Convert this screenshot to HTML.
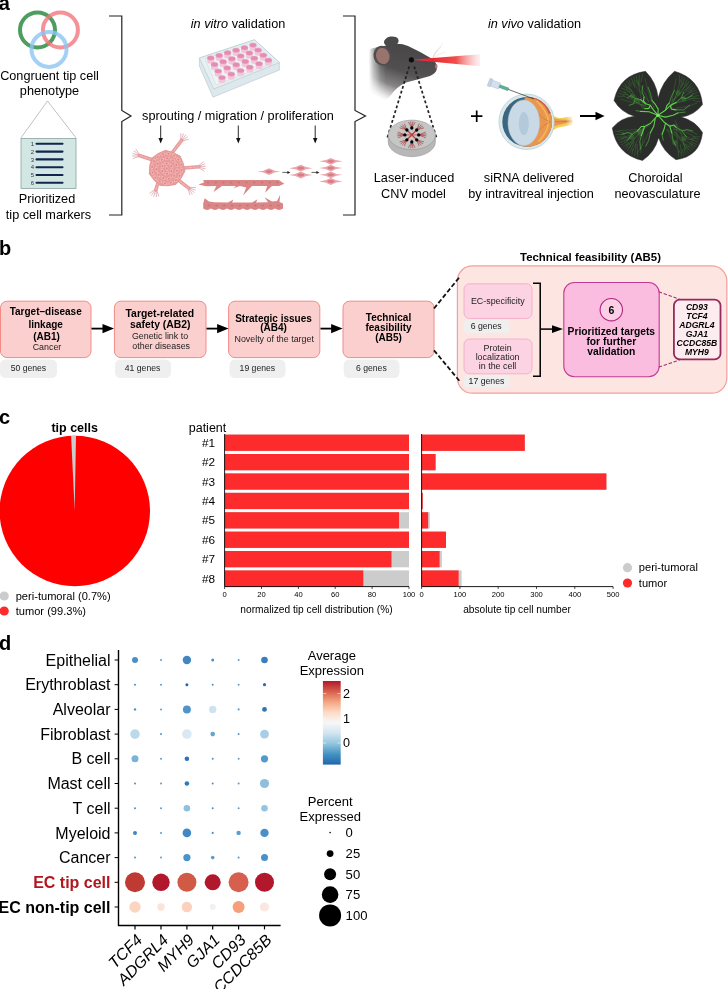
<!DOCTYPE html>
<html lang="en"><head><meta charset="utf-8"><title>Figure</title>
<style>
html,body{margin:0;padding:0;background:#fff;}
body{width:728px;height:989px;overflow:hidden;}
svg{display:block;font-family:"Liberation Sans",sans-serif;fill:#000;}
</style></head><body>
<svg width="728" height="989" viewBox="0 0 728 989">
<rect width="728" height="989" fill="#fff"/>
<g id="pa">
<text x="-1.2" y="10.3" font-size="20" font-weight="bold">a</text>
<circle cx="37.5" cy="30" r="17.5" fill="none" stroke="#4d9e5e" stroke-width="4"/>
<circle cx="60.4" cy="30" r="17.5" fill="none" stroke="#f2777e" stroke-width="4" opacity="0.8"/>
<circle cx="49" cy="49.4" r="17.5" fill="none" stroke="#8cc4f2" stroke-width="4" opacity="0.8"/>
<text x="49.5" y="79.5" font-size="12.7" text-anchor="middle">Congruent tip cell</text>
<text x="49.5" y="95" font-size="12.7" text-anchor="middle">phenotype</text>
<path d="M21 137.8 L47.5 101 L76 137.8" fill="none" stroke="#8f9a97" stroke-width="0.6"/>
<rect x="21" y="138.5" width="55" height="50" fill="#d2e7e3" stroke="#8aa39f" stroke-width="0.8"/>
<line x1="36.5" y1="143.75" x2="62.5" y2="143.75" stroke="#10264f" stroke-width="2.1" stroke-linecap="round"/>
<text x="34.2" y="145.85" font-size="6" text-anchor="end" fill="#334">1</text>
<line x1="36.5" y1="151.6" x2="62.5" y2="151.6" stroke="#10264f" stroke-width="2.1" stroke-linecap="round"/>
<text x="34.2" y="153.7" font-size="6" text-anchor="end" fill="#334">2</text>
<line x1="36.5" y1="159.4" x2="62.5" y2="159.4" stroke="#10264f" stroke-width="2.1" stroke-linecap="round"/>
<text x="34.2" y="161.5" font-size="6" text-anchor="end" fill="#334">3</text>
<line x1="36.5" y1="167.2" x2="62.5" y2="167.2" stroke="#10264f" stroke-width="2.1" stroke-linecap="round"/>
<text x="34.2" y="169.29999999999998" font-size="6" text-anchor="end" fill="#334">4</text>
<line x1="36.5" y1="175" x2="62.5" y2="175" stroke="#10264f" stroke-width="2.1" stroke-linecap="round"/>
<text x="34.2" y="177.1" font-size="6" text-anchor="end" fill="#334">5</text>
<line x1="36.5" y1="182.8" x2="62.5" y2="182.8" stroke="#10264f" stroke-width="2.1" stroke-linecap="round"/>
<text x="34.2" y="184.9" font-size="6" text-anchor="end" fill="#334">6</text>
<text x="47" y="202.5" font-size="12.7" text-anchor="middle">Prioritized</text>
<text x="48.5" y="218.7" font-size="12.7" text-anchor="middle">tip cell markers</text>
<path d="M109 16 H121.8 V110.5 L131 116 L121.8 121.5 V215 H109" fill="none" stroke="#222" stroke-width="1.2"/>
<path d="M343 16 H355 V110.5 L365.5 116 L355 121.5 V215 H343" fill="none" stroke="#222" stroke-width="1.2"/>
<text x="238" y="27.5" font-size="12.7" text-anchor="middle"><tspan font-style="italic">in vitro</tspan> validation</text>
<text x="534.5" y="27.5" font-size="12.7" text-anchor="middle"><tspan font-style="italic">in vivo</tspan> validation</text>
<text x="238" y="119.5" font-size="12.7" text-anchor="middle">sprouting / migration / proliferation</text>
<path d="M160.7 125.5 V140" stroke="#111" stroke-width="0.9" fill="none"/><path d="M158.5 138 L160.7 143.6 L162.89999999999998 138 Z" fill="#111"/>
<path d="M238.3 125.5 V140" stroke="#111" stroke-width="0.9" fill="none"/><path d="M236.10000000000002 138 L238.3 143.6 L240.5 138 Z" fill="#111"/>
<path d="M315.2 125.5 V140" stroke="#111" stroke-width="0.9" fill="none"/><path d="M313.0 138 L315.2 143.6 L317.4 138 Z" fill="#111"/>
<g id="plate">
<path d="M199.4 58 L254.5 39.8 L279.4 62.5 L279.4 70 L213 97.2 L199.4 66 Z" fill="#dde8ec" stroke="#b5c6cd" stroke-width="0.6"/>
<path d="M199.4 58 L254.5 39.8 L279.4 62.5 L213.7 89 Z" fill="#e6eff2" stroke="#b5c6cd" stroke-width="0.6"/>
<path d="M205 58.5 L253 42.5 L274.5 62 L216 85 Z" fill="#eef3f5" stroke="#c6d3d8" stroke-width="0.4"/>
<path d="M207.2 58.0 v3.4 a3.5 2.2 0 0 0 7 0 v-3.4 Z" fill="#f4c6da"/><ellipse cx="210.7" cy="58.0" rx="3.5" ry="2.2" fill="#e88bb4" stroke="#d9a9c0" stroke-width="0.4"/>
<path d="M215.7 55.4 v3.4 a3.5 2.2 0 0 0 7 0 v-3.4 Z" fill="#f4c6da"/><ellipse cx="219.2" cy="55.4" rx="3.5" ry="2.2" fill="#e88bb4" stroke="#d9a9c0" stroke-width="0.4"/>
<path d="M224.1 52.8 v3.4 a3.5 2.2 0 0 0 7 0 v-3.4 Z" fill="#f4c6da"/><ellipse cx="227.6" cy="52.8" rx="3.5" ry="2.2" fill="#e88bb4" stroke="#d9a9c0" stroke-width="0.4"/>
<path d="M232.6 50.3 v3.4 a3.5 2.2 0 0 0 7 0 v-3.4 Z" fill="#f4c6da"/><ellipse cx="236.1" cy="50.3" rx="3.5" ry="2.2" fill="#e88bb4" stroke="#d9a9c0" stroke-width="0.4"/>
<path d="M241.0 47.7 v3.4 a3.5 2.2 0 0 0 7 0 v-3.4 Z" fill="#f4c6da"/><ellipse cx="244.5" cy="47.7" rx="3.5" ry="2.2" fill="#e88bb4" stroke="#d9a9c0" stroke-width="0.4"/>
<path d="M249.5 45.1 v3.4 a3.5 2.2 0 0 0 7 0 v-3.4 Z" fill="#f4c6da"/><ellipse cx="253.0" cy="45.1" rx="3.5" ry="2.2" fill="#e88bb4" stroke="#d9a9c0" stroke-width="0.4"/>
<path d="M211.0 64.5 v3.4 a3.5 2.2 0 0 0 7 0 v-3.4 Z" fill="#f4c6da"/><ellipse cx="214.5" cy="64.5" rx="3.5" ry="2.2" fill="#e88bb4" stroke="#d9a9c0" stroke-width="0.4"/>
<path d="M219.7 61.7 v3.4 a3.5 2.2 0 0 0 7 0 v-3.4 Z" fill="#f4c6da"/><ellipse cx="223.2" cy="61.7" rx="3.5" ry="2.2" fill="#e88bb4" stroke="#d9a9c0" stroke-width="0.4"/>
<path d="M228.4 58.8 v3.4 a3.5 2.2 0 0 0 7 0 v-3.4 Z" fill="#f4c6da"/><ellipse cx="231.9" cy="58.8" rx="3.5" ry="2.2" fill="#e88bb4" stroke="#d9a9c0" stroke-width="0.4"/>
<path d="M237.2 55.9 v3.4 a3.5 2.2 0 0 0 7 0 v-3.4 Z" fill="#f4c6da"/><ellipse cx="240.7" cy="55.9" rx="3.5" ry="2.2" fill="#e88bb4" stroke="#d9a9c0" stroke-width="0.4"/>
<path d="M245.9 53.0 v3.4 a3.5 2.2 0 0 0 7 0 v-3.4 Z" fill="#f4c6da"/><ellipse cx="249.4" cy="53.0" rx="3.5" ry="2.2" fill="#e88bb4" stroke="#d9a9c0" stroke-width="0.4"/>
<path d="M254.6 50.1 v3.4 a3.5 2.2 0 0 0 7 0 v-3.4 Z" fill="#f4c6da"/><ellipse cx="258.1" cy="50.1" rx="3.5" ry="2.2" fill="#e88bb4" stroke="#d9a9c0" stroke-width="0.4"/>
<path d="M214.7 71.1 v3.4 a3.5 2.2 0 0 0 7 0 v-3.4 Z" fill="#f4c6da"/><ellipse cx="218.2" cy="71.1" rx="3.5" ry="2.2" fill="#e88bb4" stroke="#d9a9c0" stroke-width="0.4"/>
<path d="M223.7 67.9 v3.4 a3.5 2.2 0 0 0 7 0 v-3.4 Z" fill="#f4c6da"/><ellipse cx="227.2" cy="67.9" rx="3.5" ry="2.2" fill="#e88bb4" stroke="#d9a9c0" stroke-width="0.4"/>
<path d="M232.7 64.7 v3.4 a3.5 2.2 0 0 0 7 0 v-3.4 Z" fill="#f4c6da"/><ellipse cx="236.2" cy="64.7" rx="3.5" ry="2.2" fill="#e88bb4" stroke="#d9a9c0" stroke-width="0.4"/>
<path d="M241.8 61.5 v3.4 a3.5 2.2 0 0 0 7 0 v-3.4 Z" fill="#f4c6da"/><ellipse cx="245.3" cy="61.5" rx="3.5" ry="2.2" fill="#e88bb4" stroke="#d9a9c0" stroke-width="0.4"/>
<path d="M250.8 58.3 v3.4 a3.5 2.2 0 0 0 7 0 v-3.4 Z" fill="#f4c6da"/><ellipse cx="254.3" cy="58.3" rx="3.5" ry="2.2" fill="#e88bb4" stroke="#d9a9c0" stroke-width="0.4"/>
<path d="M259.8 55.2 v3.4 a3.5 2.2 0 0 0 7 0 v-3.4 Z" fill="#f4c6da"/><ellipse cx="263.3" cy="55.2" rx="3.5" ry="2.2" fill="#e88bb4" stroke="#d9a9c0" stroke-width="0.4"/>
<path d="M218.5 77.6 v3.4 a3.5 2.2 0 0 0 7 0 v-3.4 Z" fill="#f4c6da"/><ellipse cx="222.0" cy="77.6" rx="3.5" ry="2.2" fill="#e88bb4" stroke="#d9a9c0" stroke-width="0.4"/>
<path d="M227.8 74.1 v3.4 a3.5 2.2 0 0 0 7 0 v-3.4 Z" fill="#f4c6da"/><ellipse cx="231.3" cy="74.1" rx="3.5" ry="2.2" fill="#e88bb4" stroke="#d9a9c0" stroke-width="0.4"/>
<path d="M237.1 70.6 v3.4 a3.5 2.2 0 0 0 7 0 v-3.4 Z" fill="#f4c6da"/><ellipse cx="240.6" cy="70.6" rx="3.5" ry="2.2" fill="#e88bb4" stroke="#d9a9c0" stroke-width="0.4"/>
<path d="M246.3 67.2 v3.4 a3.5 2.2 0 0 0 7 0 v-3.4 Z" fill="#f4c6da"/><ellipse cx="249.8" cy="67.2" rx="3.5" ry="2.2" fill="#e88bb4" stroke="#d9a9c0" stroke-width="0.4"/>
<path d="M255.6 63.7 v3.4 a3.5 2.2 0 0 0 7 0 v-3.4 Z" fill="#f4c6da"/><ellipse cx="259.1" cy="63.7" rx="3.5" ry="2.2" fill="#e88bb4" stroke="#d9a9c0" stroke-width="0.4"/>
<path d="M264.9 60.2 v3.4 a3.5 2.2 0 0 0 7 0 v-3.4 Z" fill="#f4c6da"/><ellipse cx="268.4" cy="60.2" rx="3.5" ry="2.2" fill="#e88bb4" stroke="#d9a9c0" stroke-width="0.4"/>
</g>
<g id="spheroid">
<line x1="180.7" y1="141.6" x2="180.9" y2="133.6" stroke="#e5b6bf" stroke-width="1" stroke-linecap="round"/>
<line x1="180.7" y1="141.6" x2="183.4" y2="133.9" stroke="#e5b6bf" stroke-width="1" stroke-linecap="round"/>
<line x1="180.7" y1="141.6" x2="185.7" y2="135.0" stroke="#e5b6bf" stroke-width="1" stroke-linecap="round"/>
<line x1="180.7" y1="141.6" x2="187.4" y2="136.9" stroke="#e5b6bf" stroke-width="1" stroke-linecap="round"/>
<line x1="180.7" y1="141.6" x2="188.3" y2="139.3" stroke="#e5b6bf" stroke-width="1" stroke-linecap="round"/>
<line x1="171.2" y1="154" x2="181.6" y2="140.4" stroke="#e79c9c" stroke-width="3.6" stroke-linecap="round"/>
<line x1="171.2" y1="154" x2="181.6" y2="140.4" stroke="#efb4b2" stroke-width="1.2" stroke-linecap="round" stroke-dasharray="3 1.6"/>
<line x1="140.7" y1="156.0" x2="133.1" y2="158.4" stroke="#e5b6bf" stroke-width="1" stroke-linecap="round"/>
<line x1="140.7" y1="156.0" x2="132.5" y2="155.9" stroke="#e5b6bf" stroke-width="1" stroke-linecap="round"/>
<line x1="140.7" y1="156.0" x2="132.8" y2="153.4" stroke="#e5b6bf" stroke-width="1" stroke-linecap="round"/>
<line x1="140.7" y1="156.0" x2="134.1" y2="151.1" stroke="#e5b6bf" stroke-width="1" stroke-linecap="round"/>
<line x1="140.7" y1="156.0" x2="136.0" y2="149.5" stroke="#e5b6bf" stroke-width="1" stroke-linecap="round"/>
<line x1="151.5" y1="159.5" x2="139.3" y2="155.5" stroke="#e79c9c" stroke-width="3.6" stroke-linecap="round"/>
<line x1="151.5" y1="159.5" x2="139.3" y2="155.5" stroke="#efb4b2" stroke-width="1.2" stroke-linecap="round" stroke-dasharray="3 1.6"/>
<line x1="197.2" y1="166.9" x2="203.3" y2="161.8" stroke="#e5b6bf" stroke-width="1" stroke-linecap="round"/>
<line x1="197.2" y1="166.9" x2="204.8" y2="163.8" stroke="#e5b6bf" stroke-width="1" stroke-linecap="round"/>
<line x1="197.2" y1="166.9" x2="205.5" y2="166.2" stroke="#e5b6bf" stroke-width="1" stroke-linecap="round"/>
<line x1="197.2" y1="166.9" x2="205.2" y2="168.8" stroke="#e5b6bf" stroke-width="1" stroke-linecap="round"/>
<line x1="197.2" y1="166.9" x2="204.0" y2="171.0" stroke="#e5b6bf" stroke-width="1" stroke-linecap="round"/>
<line x1="184" y1="168" x2="198.7" y2="166.8" stroke="#e79c9c" stroke-width="3.6" stroke-linecap="round"/>
<line x1="184" y1="168" x2="198.7" y2="166.8" stroke="#efb4b2" stroke-width="1.2" stroke-linecap="round" stroke-dasharray="3 1.6"/>
<line x1="187.6" y1="187.3" x2="195.6" y2="187.6" stroke="#e5b6bf" stroke-width="1" stroke-linecap="round"/>
<line x1="187.6" y1="187.3" x2="195.3" y2="190.1" stroke="#e5b6bf" stroke-width="1" stroke-linecap="round"/>
<line x1="187.6" y1="187.3" x2="194.2" y2="192.4" stroke="#e5b6bf" stroke-width="1" stroke-linecap="round"/>
<line x1="187.6" y1="187.3" x2="192.2" y2="194.1" stroke="#e5b6bf" stroke-width="1" stroke-linecap="round"/>
<line x1="187.6" y1="187.3" x2="189.9" y2="194.9" stroke="#e5b6bf" stroke-width="1" stroke-linecap="round"/>
<line x1="179" y1="180.6" x2="188.8" y2="188.2" stroke="#e79c9c" stroke-width="3.6" stroke-linecap="round"/>
<line x1="179" y1="180.6" x2="188.8" y2="188.2" stroke="#efb4b2" stroke-width="1.2" stroke-linecap="round" stroke-dasharray="3 1.6"/>
<line x1="156.3" y1="188.5" x2="158.7" y2="196.1" stroke="#e5b6bf" stroke-width="1" stroke-linecap="round"/>
<line x1="156.3" y1="188.5" x2="156.3" y2="196.7" stroke="#e5b6bf" stroke-width="1" stroke-linecap="round"/>
<line x1="156.3" y1="188.5" x2="153.7" y2="196.4" stroke="#e5b6bf" stroke-width="1" stroke-linecap="round"/>
<line x1="156.3" y1="188.5" x2="151.5" y2="195.1" stroke="#e5b6bf" stroke-width="1" stroke-linecap="round"/>
<line x1="156.3" y1="188.5" x2="149.9" y2="193.2" stroke="#e5b6bf" stroke-width="1" stroke-linecap="round"/>
<line x1="158.2" y1="182.5" x2="155.8" y2="189.9" stroke="#e79c9c" stroke-width="3.6" stroke-linecap="round"/>
<line x1="158.2" y1="182.5" x2="155.8" y2="189.9" stroke="#efb4b2" stroke-width="1.2" stroke-linecap="round" stroke-dasharray="3 1.6"/>
<polygon points="184.9,171.2 181.1,178.3 175.9,184.4 168.1,185.8 160.1,185.5 154.1,180.3 149.3,173.9 149.7,165.9 151.7,158.2 158.2,153.5 165.4,150.3 173.1,152.4 180.2,156.1 183.3,163.4" fill="#e99c9c" stroke="#e39090" stroke-width="0.8" stroke-linejoin="round"/>
<ellipse cx="166.8" cy="168.5" rx="3.1" ry="1.9" transform="rotate(81 166.8 168.5)" fill="#f1b5b3" stroke="#e08888" stroke-width="0.35"/><ellipse cx="166.8" cy="168.5" rx="1.25" ry="0.85" transform="rotate(81 166.8 168.5)" fill="#e58585"/>
<ellipse cx="166.9" cy="173.7" rx="3.1" ry="1.9" transform="rotate(162 166.9 173.7)" fill="#f1b5b3" stroke="#e08888" stroke-width="0.35"/><ellipse cx="166.9" cy="173.7" rx="1.25" ry="0.85" transform="rotate(162 166.9 173.7)" fill="#e58585"/>
<ellipse cx="162.3" cy="171.1" rx="3.1" ry="1.9" transform="rotate(247 162.3 171.1)" fill="#f1b5b3" stroke="#e08888" stroke-width="0.35"/><ellipse cx="162.3" cy="171.1" rx="1.25" ry="0.85" transform="rotate(247 162.3 171.1)" fill="#e58585"/>
<ellipse cx="162.3" cy="165.9" rx="3.1" ry="1.9" transform="rotate(278 162.3 165.9)" fill="#f1b5b3" stroke="#e08888" stroke-width="0.35"/><ellipse cx="162.3" cy="165.9" rx="1.25" ry="0.85" transform="rotate(278 162.3 165.9)" fill="#e58585"/>
<ellipse cx="166.7" cy="163.3" rx="3.1" ry="1.9" transform="rotate(361 166.7 163.3)" fill="#f1b5b3" stroke="#e08888" stroke-width="0.35"/><ellipse cx="166.7" cy="163.3" rx="1.25" ry="0.85" transform="rotate(361 166.7 163.3)" fill="#e58585"/>
<ellipse cx="171.3" cy="165.9" rx="3.1" ry="1.9" transform="rotate(413 171.3 165.9)" fill="#f1b5b3" stroke="#e08888" stroke-width="0.35"/><ellipse cx="171.3" cy="165.9" rx="1.25" ry="0.85" transform="rotate(413 171.3 165.9)" fill="#e58585"/>
<ellipse cx="171.3" cy="171.1" rx="3.1" ry="1.9" transform="rotate(457 171.3 171.1)" fill="#f1b5b3" stroke="#e08888" stroke-width="0.35"/><ellipse cx="171.3" cy="171.1" rx="1.25" ry="0.85" transform="rotate(457 171.3 171.1)" fill="#e58585"/>
<ellipse cx="156.6" cy="169.3" rx="3.1" ry="1.9" transform="rotate(266 156.6 169.3)" fill="#f1b5b3" stroke="#e08888" stroke-width="0.35"/><ellipse cx="156.6" cy="169.3" rx="1.25" ry="0.85" transform="rotate(266 156.6 169.3)" fill="#e58585"/>
<ellipse cx="157.8" cy="163.7" rx="3.1" ry="1.9" transform="rotate(275 157.8 163.7)" fill="#f1b5b3" stroke="#e08888" stroke-width="0.35"/><ellipse cx="157.8" cy="163.7" rx="1.25" ry="0.85" transform="rotate(275 157.8 163.7)" fill="#e58585"/>
<ellipse cx="161.8" cy="159.6" rx="3.1" ry="1.9" transform="rotate(327 161.8 159.6)" fill="#f1b5b3" stroke="#e08888" stroke-width="0.35"/><ellipse cx="161.8" cy="159.6" rx="1.25" ry="0.85" transform="rotate(327 161.8 159.6)" fill="#e58585"/>
<ellipse cx="167.4" cy="158.3" rx="3.1" ry="1.9" transform="rotate(342 167.4 158.3)" fill="#f1b5b3" stroke="#e08888" stroke-width="0.35"/><ellipse cx="167.4" cy="158.3" rx="1.25" ry="0.85" transform="rotate(342 167.4 158.3)" fill="#e58585"/>
<ellipse cx="172.8" cy="160.3" rx="3.1" ry="1.9" transform="rotate(376 172.8 160.3)" fill="#f1b5b3" stroke="#e08888" stroke-width="0.35"/><ellipse cx="172.8" cy="160.3" rx="1.25" ry="0.85" transform="rotate(376 172.8 160.3)" fill="#e58585"/>
<ellipse cx="176.3" cy="164.8" rx="3.1" ry="1.9" transform="rotate(425 176.3 164.8)" fill="#f1b5b3" stroke="#e08888" stroke-width="0.35"/><ellipse cx="176.3" cy="164.8" rx="1.25" ry="0.85" transform="rotate(425 176.3 164.8)" fill="#e58585"/>
<ellipse cx="176.8" cy="170.6" rx="3.1" ry="1.9" transform="rotate(478 176.8 170.6)" fill="#f1b5b3" stroke="#e08888" stroke-width="0.35"/><ellipse cx="176.8" cy="170.6" rx="1.25" ry="0.85" transform="rotate(478 176.8 170.6)" fill="#e58585"/>
<ellipse cx="174.1" cy="175.6" rx="3.1" ry="1.9" transform="rotate(476 174.1 175.6)" fill="#f1b5b3" stroke="#e08888" stroke-width="0.35"/><ellipse cx="174.1" cy="175.6" rx="1.25" ry="0.85" transform="rotate(476 174.1 175.6)" fill="#e58585"/>
<ellipse cx="169.1" cy="178.4" rx="3.1" ry="1.9" transform="rotate(513 169.1 178.4)" fill="#f1b5b3" stroke="#e08888" stroke-width="0.35"/><ellipse cx="169.1" cy="178.4" rx="1.25" ry="0.85" transform="rotate(513 169.1 178.4)" fill="#e58585"/>
<ellipse cx="163.3" cy="178.1" rx="3.1" ry="1.9" transform="rotate(566 163.3 178.1)" fill="#f1b5b3" stroke="#e08888" stroke-width="0.35"/><ellipse cx="163.3" cy="178.1" rx="1.25" ry="0.85" transform="rotate(566 163.3 178.1)" fill="#e58585"/>
<ellipse cx="158.7" cy="174.7" rx="3.1" ry="1.9" transform="rotate(615 158.7 174.7)" fill="#f1b5b3" stroke="#e08888" stroke-width="0.35"/><ellipse cx="158.7" cy="174.7" rx="1.25" ry="0.85" transform="rotate(615 158.7 174.7)" fill="#e58585"/>
<ellipse cx="162.8" cy="154.2" rx="3.1" ry="1.9" transform="rotate(348 162.8 154.2)" fill="#f1b5b3" stroke="#e08888" stroke-width="0.35"/><ellipse cx="162.8" cy="154.2" rx="1.25" ry="0.85" transform="rotate(348 162.8 154.2)" fill="#e58585"/>
<ellipse cx="168.6" cy="153.8" rx="3.1" ry="1.9" transform="rotate(362 168.6 153.8)" fill="#f1b5b3" stroke="#e08888" stroke-width="0.35"/><ellipse cx="168.6" cy="153.8" rx="1.25" ry="0.85" transform="rotate(362 168.6 153.8)" fill="#e58585"/>
<ellipse cx="174.1" cy="155.6" rx="3.1" ry="1.9" transform="rotate(413 174.1 155.6)" fill="#f1b5b3" stroke="#e08888" stroke-width="0.35"/><ellipse cx="174.1" cy="155.6" rx="1.25" ry="0.85" transform="rotate(413 174.1 155.6)" fill="#e58585"/>
<ellipse cx="178.4" cy="159.4" rx="3.1" ry="1.9" transform="rotate(389 178.4 159.4)" fill="#f1b5b3" stroke="#e08888" stroke-width="0.35"/><ellipse cx="178.4" cy="159.4" rx="1.25" ry="0.85" transform="rotate(389 178.4 159.4)" fill="#e58585"/>
<ellipse cx="181.1" cy="164.5" rx="3.1" ry="1.9" transform="rotate(452 181.1 164.5)" fill="#f1b5b3" stroke="#e08888" stroke-width="0.35"/><ellipse cx="181.1" cy="164.5" rx="1.25" ry="0.85" transform="rotate(452 181.1 164.5)" fill="#e58585"/>
<ellipse cx="181.5" cy="170.3" rx="3.1" ry="1.9" transform="rotate(446 181.5 170.3)" fill="#f1b5b3" stroke="#e08888" stroke-width="0.35"/><ellipse cx="181.5" cy="170.3" rx="1.25" ry="0.85" transform="rotate(446 181.5 170.3)" fill="#e58585"/>
<ellipse cx="179.7" cy="175.8" rx="3.1" ry="1.9" transform="rotate(462 179.7 175.8)" fill="#f1b5b3" stroke="#e08888" stroke-width="0.35"/><ellipse cx="179.7" cy="175.8" rx="1.25" ry="0.85" transform="rotate(462 179.7 175.8)" fill="#e58585"/>
<ellipse cx="175.9" cy="180.1" rx="3.1" ry="1.9" transform="rotate(483 175.9 180.1)" fill="#f1b5b3" stroke="#e08888" stroke-width="0.35"/><ellipse cx="175.9" cy="180.1" rx="1.25" ry="0.85" transform="rotate(483 175.9 180.1)" fill="#e58585"/>
<ellipse cx="170.8" cy="182.8" rx="3.1" ry="1.9" transform="rotate(515 170.8 182.8)" fill="#f1b5b3" stroke="#e08888" stroke-width="0.35"/><ellipse cx="170.8" cy="182.8" rx="1.25" ry="0.85" transform="rotate(515 170.8 182.8)" fill="#e58585"/>
<ellipse cx="165.0" cy="183.2" rx="3.1" ry="1.9" transform="rotate(563 165.0 183.2)" fill="#f1b5b3" stroke="#e08888" stroke-width="0.35"/><ellipse cx="165.0" cy="183.2" rx="1.25" ry="0.85" transform="rotate(563 165.0 183.2)" fill="#e58585"/>
<ellipse cx="159.5" cy="181.4" rx="3.1" ry="1.9" transform="rotate(553 159.5 181.4)" fill="#f1b5b3" stroke="#e08888" stroke-width="0.35"/><ellipse cx="159.5" cy="181.4" rx="1.25" ry="0.85" transform="rotate(553 159.5 181.4)" fill="#e58585"/>
<ellipse cx="155.2" cy="177.6" rx="3.1" ry="1.9" transform="rotate(596 155.2 177.6)" fill="#f1b5b3" stroke="#e08888" stroke-width="0.35"/><ellipse cx="155.2" cy="177.6" rx="1.25" ry="0.85" transform="rotate(596 155.2 177.6)" fill="#e58585"/>
<ellipse cx="152.5" cy="172.5" rx="3.1" ry="1.9" transform="rotate(621 152.5 172.5)" fill="#f1b5b3" stroke="#e08888" stroke-width="0.35"/><ellipse cx="152.5" cy="172.5" rx="1.25" ry="0.85" transform="rotate(621 152.5 172.5)" fill="#e58585"/>
<ellipse cx="152.1" cy="166.7" rx="3.1" ry="1.9" transform="rotate(631 152.1 166.7)" fill="#f1b5b3" stroke="#e08888" stroke-width="0.35"/><ellipse cx="152.1" cy="166.7" rx="1.25" ry="0.85" transform="rotate(631 152.1 166.7)" fill="#e58585"/>
<ellipse cx="153.9" cy="161.2" rx="3.1" ry="1.9" transform="rotate(662 153.9 161.2)" fill="#f1b5b3" stroke="#e08888" stroke-width="0.35"/><ellipse cx="153.9" cy="161.2" rx="1.25" ry="0.85" transform="rotate(662 153.9 161.2)" fill="#e58585"/>
<ellipse cx="157.7" cy="156.9" rx="3.1" ry="1.9" transform="rotate(660 157.7 156.9)" fill="#f1b5b3" stroke="#e08888" stroke-width="0.35"/><ellipse cx="157.7" cy="156.9" rx="1.25" ry="0.85" transform="rotate(660 157.7 156.9)" fill="#e58585"/>
</g>
<g id="migration" fill="#db8686">
<path d="M198.4 184.4 L204 182.4 L203.2 179.9 H278.8 L284.3 183.7 L279 185.9 L272 186 L265 192.7 L267.3 186 L252 186 L243 195.4 L246.3 187.6 L240 186 L233.5 188.2 L236 186 L222 186 L213.5 192 L216.3 186 L206 186.3 Z"/>
<path d="M203.2 208.5 V203.5 L204.6 198.2 L209 201.6 L214 202.3 L228 202.5 L233.5 199.6 L232 202.5 L252 202.5 L257.5 199.3 L256 202.5 L268 202.3 L264.5 197.3 L272 201.6 L277 201 L280.2 194.7 L279.5 202 L283 203.5 V208.5 Q279.0 211.4 275.0 208.5 Q271.0 211.4 267.0 208.5 Q263.0 211.4 259.0 208.5 Q255.0 211.4 251.0 208.5 Q247.0 211.4 243.0 208.5 Q239.0 211.4 235.0 208.5 Q231.0 211.4 227.0 208.5 Q223.0 211.4 219.0 208.5 Q215.0 211.4 211.0 208.5 Q207.1 211.4 203.2 208.5 Z"/>
<ellipse cx="208.0" cy="182.6" rx="1.5" ry="0.8" fill="#cb7277"/><ellipse cx="209.0" cy="205.6" rx="1.5" ry="0.8" fill="#cb7277"/>
<ellipse cx="215.7" cy="182.6" rx="1.5" ry="0.8" fill="#cb7277"/><ellipse cx="216.7" cy="205.6" rx="1.5" ry="0.8" fill="#cb7277"/>
<ellipse cx="223.4" cy="182.6" rx="1.5" ry="0.8" fill="#cb7277"/><ellipse cx="224.4" cy="205.6" rx="1.5" ry="0.8" fill="#cb7277"/>
<ellipse cx="231.1" cy="182.6" rx="1.5" ry="0.8" fill="#cb7277"/><ellipse cx="232.1" cy="205.6" rx="1.5" ry="0.8" fill="#cb7277"/>
<ellipse cx="238.8" cy="182.6" rx="1.5" ry="0.8" fill="#cb7277"/><ellipse cx="239.8" cy="205.6" rx="1.5" ry="0.8" fill="#cb7277"/>
<ellipse cx="246.5" cy="182.6" rx="1.5" ry="0.8" fill="#cb7277"/><ellipse cx="247.5" cy="205.6" rx="1.5" ry="0.8" fill="#cb7277"/>
<ellipse cx="254.2" cy="182.6" rx="1.5" ry="0.8" fill="#cb7277"/><ellipse cx="255.2" cy="205.6" rx="1.5" ry="0.8" fill="#cb7277"/>
<ellipse cx="261.9" cy="182.6" rx="1.5" ry="0.8" fill="#cb7277"/><ellipse cx="262.9" cy="205.6" rx="1.5" ry="0.8" fill="#cb7277"/>
<ellipse cx="269.6" cy="182.6" rx="1.5" ry="0.8" fill="#cb7277"/><ellipse cx="270.6" cy="205.6" rx="1.5" ry="0.8" fill="#cb7277"/>
<ellipse cx="277.3" cy="182.6" rx="1.5" ry="0.8" fill="#cb7277"/><ellipse cx="278.3" cy="205.6" rx="1.5" ry="0.8" fill="#cb7277"/>
</g>
<g id="prolif">
<path d="M257.3 171.6 Q264 171.2 269 168.2 Q274 171.2 280.7 171.6 Q274 172.0 269 175.0 Q264 172.0 257.3 171.6 Z" fill="#eaa4ab"/><ellipse cx="269" cy="171.6" rx="3.3" ry="1.4" fill="#da7c86"/>
<path d="M289.1 168.2 Q295.8 167.79999999999998 300.8 164.79999999999998 Q305.8 167.79999999999998 312.5 168.2 Q305.8 168.6 300.8 171.6 Q295.8 168.6 289.1 168.2 Z" fill="#eaa4ab"/><ellipse cx="300.8" cy="168.2" rx="3.3" ry="1.4" fill="#da7c86"/>
<path d="M289.1 175 Q295.8 174.6 300.8 171.6 Q305.8 174.6 312.5 175 Q305.8 175.4 300.8 178.4 Q295.8 175.4 289.1 175 Z" fill="#eaa4ab"/><ellipse cx="300.8" cy="175" rx="3.3" ry="1.4" fill="#da7c86"/>
<path d="M319.1 161.3 Q325.8 160.9 330.8 157.9 Q335.8 160.9 342.5 161.3 Q335.8 161.70000000000002 330.8 164.70000000000002 Q325.8 161.70000000000002 319.1 161.3 Z" fill="#eaa4ab"/><ellipse cx="330.8" cy="161.3" rx="3.3" ry="1.4" fill="#da7c86"/>
<path d="M319.1 168.1 Q325.8 167.7 330.8 164.7 Q335.8 167.7 342.5 168.1 Q335.8 168.5 330.8 171.5 Q325.8 168.5 319.1 168.1 Z" fill="#eaa4ab"/><ellipse cx="330.8" cy="168.1" rx="3.3" ry="1.4" fill="#da7c86"/>
<path d="M319.1 174.8 Q325.8 174.4 330.8 171.4 Q335.8 174.4 342.5 174.8 Q335.8 175.20000000000002 330.8 178.20000000000002 Q325.8 175.20000000000002 319.1 174.8 Z" fill="#eaa4ab"/><ellipse cx="330.8" cy="174.8" rx="3.3" ry="1.4" fill="#da7c86"/>
<path d="M319.1 181.5 Q325.8 181.1 330.8 178.1 Q335.8 181.1 342.5 181.5 Q335.8 181.9 330.8 184.9 Q325.8 181.9 319.1 181.5 Z" fill="#eaa4ab"/><ellipse cx="330.8" cy="181.5" rx="3.3" ry="1.4" fill="#da7c86"/>
<path d="M282.3 172.4 H288" stroke="#222" stroke-width="0.7"/><path d="M287.4 170.9 L290.4 172.4 L287.4 173.9 Z" fill="#222"/>
<path d="M311.5 172.4 H317" stroke="#222" stroke-width="0.7"/><path d="M316.4 170.9 L319.4 172.4 L316.4 173.9 Z" fill="#222"/>
</g>
<g id="mouse">
<defs>
<linearGradient id="mfl" gradientUnits="userSpaceOnUse" x1="366" y1="0" x2="437.6" y2="0"><stop offset="0" stop-color="#000" stop-opacity="1"/><stop offset="0.04" stop-color="#000" stop-opacity="1"/><stop offset="0.1" stop-color="#000" stop-opacity="0.6"/><stop offset="0.2" stop-color="#000" stop-opacity="0.15"/><stop offset="0.28" stop-color="#000" stop-opacity="0"/></linearGradient>
<linearGradient id="mfb" gradientUnits="userSpaceOnUse" x1="394.6" y1="68.5" x2="380.3" y2="101.5"><stop offset="0" stop-color="#000" stop-opacity="0"/><stop offset="0.45" stop-color="#000" stop-opacity="0.2"/><stop offset="0.8" stop-color="#000" stop-opacity="0.85"/><stop offset="0.92" stop-color="#000" stop-opacity="1"/></linearGradient>
<mask id="mmask" maskUnits="userSpaceOnUse" x="360" y="35" width="85" height="72"><rect x="360" y="35" width="85" height="72" fill="#fff"/><rect x="360" y="35" width="85" height="72" fill="url(#mfb)"/><rect x="360" y="35" width="85" height="72" fill="url(#mfl)"/></mask>
<linearGradient id="mhd" x1="0.6" y1="0" x2="0.4" y2="1"><stop offset="0" stop-color="#474545"/><stop offset="0.45" stop-color="#514f4f"/><stop offset="0.8" stop-color="#6b6969"/></linearGradient>
<linearGradient id="laser" x1="0" y1="0" x2="1" y2="0"><stop offset="0" stop-color="#e8306e"/><stop offset="0.3" stop-color="#ea2630"/><stop offset="0.65" stop-color="#ee3a3a" stop-opacity="0.9"/><stop offset="1" stop-color="#f8a0a0" stop-opacity="0.15"/></linearGradient>
</defs>
<ellipse cx="391.3" cy="41.5" rx="7.4" ry="5" fill="#4a4949" transform="rotate(-10 391.3 41.5)"/>
<path d="M366 50 Q375 47.5 384 46 Q398 41.5 408 46 Q421 52 431.5 58.5 Q437.6 63 437 68.5 Q436 73.5 430 76 Q418 79.5 406 82.5 Q397 86.5 391 95 Q387 100 382.5 101.5 Q370 96 366 80 Z" fill="url(#mhd)" mask="url(#mmask)"/>
<ellipse cx="382.3" cy="55.6" rx="8.8" ry="10" fill="#524e4e" transform="rotate(-15 382.3 55.6)"/>
<ellipse cx="382.8" cy="56" rx="6.7" ry="8.2" fill="#98746f" transform="rotate(-15 382.8 56)"/>
<ellipse cx="436.3" cy="66.3" rx="1.2" ry="2.6" fill="#a97c7c"/>
<path d="M432 60 Q436.0 49.75 443 43.5" stroke="#cfcfcf" stroke-width="0.4" fill="none"/>
<path d="M432 60 Q435.0 51.5 441 47" stroke="#cfcfcf" stroke-width="0.4" fill="none"/>
<path d="M432 60 Q433.5 53.0 438 50" stroke="#cfcfcf" stroke-width="0.4" fill="none"/>
<path d="M432 60 Q437.0 54.0 445 52" stroke="#cfcfcf" stroke-width="0.4" fill="none"/>
<path d="M411.4 59.8 L480 54.3 L480 66.2 Z" fill="url(#laser)"/>
<circle cx="411.4" cy="59.8" r="2.6" fill="#0d0d0d"/>
<path d="M409.2 66.5 L387.3 137.6" stroke="#222" stroke-width="1.7" stroke-dasharray="2.8 2.3" fill="none"/>
<path d="M414.2 66.5 L436.5 137.6" stroke="#222" stroke-width="1.7" stroke-dasharray="2.8 2.3" fill="none"/>
</g>
<g id="disc">
<path d="M388.2 134.9 v7 a23.6 14.8 0 0 0 47.2 0 v-7 Z" fill="#b7b7b7" stroke="#8c8c8c" stroke-width="0.5"/>
<ellipse cx="411.8" cy="134.9" rx="23.6" ry="14.8" fill="#c6c6c6" stroke="#8c8c8c" stroke-width="0.5"/>
<line x1="411.8" y1="127.9" x2="408.4" y2="122.0" stroke="#a93232" stroke-width="0.65"/>
<line x1="411.8" y1="127.9" x2="410.6" y2="121.4" stroke="#a93232" stroke-width="0.65"/>
<line x1="411.8" y1="127.9" x2="413.0" y2="121.4" stroke="#a93232" stroke-width="0.65"/>
<line x1="411.8" y1="127.9" x2="415.2" y2="122.0" stroke="#a93232" stroke-width="0.65"/>
<line x1="411.8" y1="134.9" x2="411.8" y2="127.9" stroke="#b43838" stroke-width="0.7"/>
<line x1="416.7" y1="130.0" x2="419.2" y2="123.7" stroke="#a93232" stroke-width="0.65"/>
<line x1="416.7" y1="130.0" x2="421.3" y2="124.6" stroke="#a93232" stroke-width="0.65"/>
<line x1="416.7" y1="130.0" x2="422.9" y2="126.0" stroke="#a93232" stroke-width="0.65"/>
<line x1="416.7" y1="130.0" x2="424.0" y2="127.8" stroke="#a93232" stroke-width="0.65"/>
<line x1="411.8" y1="134.9" x2="416.7" y2="130.0" stroke="#b43838" stroke-width="0.7"/>
<line x1="418.7" y1="134.9" x2="425.7" y2="132.0" stroke="#a93232" stroke-width="0.65"/>
<line x1="418.7" y1="134.9" x2="426.4" y2="133.9" stroke="#a93232" stroke-width="0.65"/>
<line x1="418.7" y1="134.9" x2="426.4" y2="135.9" stroke="#a93232" stroke-width="0.65"/>
<line x1="418.7" y1="134.9" x2="425.7" y2="137.8" stroke="#a93232" stroke-width="0.65"/>
<line x1="411.8" y1="134.9" x2="418.7" y2="134.9" stroke="#b43838" stroke-width="0.7"/>
<line x1="416.7" y1="139.8" x2="424.0" y2="142.0" stroke="#a93232" stroke-width="0.65"/>
<line x1="416.7" y1="139.8" x2="422.9" y2="143.8" stroke="#a93232" stroke-width="0.65"/>
<line x1="416.7" y1="139.8" x2="421.3" y2="145.2" stroke="#a93232" stroke-width="0.65"/>
<line x1="416.7" y1="139.8" x2="419.2" y2="146.1" stroke="#a93232" stroke-width="0.65"/>
<line x1="411.8" y1="134.9" x2="416.7" y2="139.8" stroke="#b43838" stroke-width="0.7"/>
<line x1="411.8" y1="141.9" x2="415.2" y2="147.8" stroke="#a93232" stroke-width="0.65"/>
<line x1="411.8" y1="141.9" x2="413.0" y2="148.4" stroke="#a93232" stroke-width="0.65"/>
<line x1="411.8" y1="141.9" x2="410.6" y2="148.4" stroke="#a93232" stroke-width="0.65"/>
<line x1="411.8" y1="141.9" x2="408.4" y2="147.8" stroke="#a93232" stroke-width="0.65"/>
<line x1="411.8" y1="134.9" x2="411.8" y2="141.9" stroke="#b43838" stroke-width="0.7"/>
<line x1="406.9" y1="139.8" x2="404.4" y2="146.1" stroke="#a93232" stroke-width="0.65"/>
<line x1="406.9" y1="139.8" x2="402.3" y2="145.2" stroke="#a93232" stroke-width="0.65"/>
<line x1="406.9" y1="139.8" x2="400.7" y2="143.8" stroke="#a93232" stroke-width="0.65"/>
<line x1="406.9" y1="139.8" x2="399.6" y2="142.0" stroke="#a93232" stroke-width="0.65"/>
<line x1="411.8" y1="134.9" x2="406.9" y2="139.8" stroke="#b43838" stroke-width="0.7"/>
<line x1="404.9" y1="134.9" x2="397.9" y2="137.8" stroke="#a93232" stroke-width="0.65"/>
<line x1="404.9" y1="134.9" x2="397.2" y2="135.9" stroke="#a93232" stroke-width="0.65"/>
<line x1="404.9" y1="134.9" x2="397.2" y2="133.9" stroke="#a93232" stroke-width="0.65"/>
<line x1="404.9" y1="134.9" x2="397.9" y2="132.0" stroke="#a93232" stroke-width="0.65"/>
<line x1="411.8" y1="134.9" x2="404.9" y2="134.9" stroke="#b43838" stroke-width="0.7"/>
<line x1="406.9" y1="130.0" x2="399.6" y2="127.8" stroke="#a93232" stroke-width="0.65"/>
<line x1="406.9" y1="130.0" x2="400.7" y2="126.0" stroke="#a93232" stroke-width="0.65"/>
<line x1="406.9" y1="130.0" x2="402.3" y2="124.6" stroke="#a93232" stroke-width="0.65"/>
<line x1="406.9" y1="130.0" x2="404.4" y2="123.7" stroke="#a93232" stroke-width="0.65"/>
<line x1="411.8" y1="134.9" x2="406.9" y2="130.0" stroke="#b43838" stroke-width="0.7"/>
<path d="M407.3 130.4 L416.3 139.4 M416.3 130.4 L407.3 139.4" stroke="#c03a3a" stroke-width="1.3"/>
<path d="M411.8 130.3 V133.1 M411.8 136.70000000000002 V139.5" stroke="#efe2e2" stroke-width="1.1"/>
<circle cx="411.8" cy="127.9" r="1.65" fill="#000"/>
<circle cx="416.7" cy="130.0" r="1.65" fill="#000"/>
<circle cx="418.7" cy="134.9" r="1.65" fill="#000"/>
<circle cx="416.7" cy="139.8" r="1.65" fill="#000"/>
<circle cx="411.8" cy="141.9" r="1.65" fill="#000"/>
<circle cx="406.9" cy="139.8" r="1.65" fill="#000"/>
<circle cx="404.9" cy="134.9" r="1.65" fill="#000"/>
<circle cx="406.9" cy="130.0" r="1.65" fill="#000"/>
</g>
<path d="M471 116.2 H482.4 M476.7 110.5 V121.9" stroke="#000" stroke-width="1.7" fill="none"/>
<g id="eye">
<defs><clipPath id="eyeclip"><circle cx="527.2" cy="121.8" r="24.9"/></clipPath></defs>
<defs><linearGradient id="nfade" x1="0" y1="0" x2="1" y2="0"><stop offset="0.7" stop-color="#fff" stop-opacity="0"/><stop offset="1" stop-color="#fff" stop-opacity="0.85"/></linearGradient></defs>
<path d="M549 110.5 Q554 118.6 561 118 Q566 117.4 572 116.6 L572.6 124.8 Q565 126 561 127 Q554 128 549 134 Z" fill="#f6cd55"/>
<path d="M549 116 Q556 121 572.3 119.4 L572.5 122.6 Q556 124.4 549 128.5 Z" fill="#e99a4e"/>
<path d="M547 121.8 Q560 122.3 572.4 121" stroke="#b5602e" stroke-width="0.5" fill="none"/>
<rect x="549" y="108" width="24" height="28" fill="url(#nfade)"/>
<circle cx="526.6" cy="121.8" r="27.7" fill="#dbe8ec" stroke="#a9c3cb" stroke-width="0.6"/>
<g clip-path="url(#eyeclip)">
<rect x="496.6" y="91.8" width="60" height="60" fill="#3b6680"/>
<path d="M525.6 91.8 L556.6 91.8 V151.8 H517.6 Z" fill="#e9974f"/>
<path d="M523.6 96.6 A24.4 24.4 0 0 1 549.8000000000001 113.3" stroke="#cf5b4c" stroke-width="2.4" fill="none"/>
<path d="M536.6 100.8 Q547.6 111.8 548.6 121.8 Q547.6 131.8 538.6 141.8" stroke="#f3b65a" stroke-width="1.6" fill="none"/>
<path d="M538.6 113.8 Q544.6 120.8 550.6 121.8 Q544.6 123.8 538.6 130.8" stroke="#c9703a" stroke-width="0.5" fill="none"/>
</g>
<ellipse cx="523.8000000000001" cy="122.7" rx="15.8" ry="22.8" fill="#c9d9e5" stroke="#b4c8d6" stroke-width="0.5"/>
<ellipse cx="523.8000000000001" cy="123.6" rx="5" ry="11.6" fill="#b3c9dc"/>
<g transform="translate(1.6 1.4) rotate(20.5 488 81)">
<rect x="487" y="77" width="3" height="8" fill="#c3d3e3" stroke="#9fb4c8" stroke-width="0.4"/>
<rect x="490" y="77.9" width="8.5" height="6.2" fill="#d3e0ee" stroke="#9fb4c8" stroke-width="0.4"/>
<rect x="498.5" y="79.5" width="9.5" height="3" fill="#5fae97" stroke="#3f8c78" stroke-width="0.3"/>
<line x1="508" y1="81" x2="535.5" y2="81" stroke="#222" stroke-width="0.6"/>
</g>
</g>
<path d="M580 116 H598" stroke="#000" stroke-width="2" fill="none"/><path d="M595.5 111.8 L604.5 116 L595.5 120.2 Z" fill="#000"/>
<g id="choroid">
<path d="M658.2 97.8 Q656.5 82.3 645.5 71.3 Q619.6 74.9 614 100.5 Q621.1 112.5 634.5 116.2 Q621.0 117.5 612.3 128 Q616.4 154.5 642.5 160.5 Q654.8 152.2 658.6 137.8 Q663.2 152.0 676 159.7 Q700.0 156.6 702.5 132.5 Q695.0 120.6 681.3 117.1 Q694.5 115.3 702.5 104.6 Q700.0 78.3 674.5 71.3 Q661.9 81.8 658.2 97.8 Z" fill="#2b2d2b" stroke="#2b2d2b" stroke-width="0.5" stroke-linejoin="miter"/>
<path d="M642.6 73.7 Q642.0 77.0 640.8 82.7" stroke="#3f8f36" stroke-width="0.5" fill="none" opacity="0.7"/>
<path d="M639.4 74.5 Q639.0 79.8 638.6 86.9" stroke="#3f8f36" stroke-width="0.5" fill="none" opacity="0.7"/>
<path d="M636.4 75.5 Q636.9 79.1 637.2 85.0" stroke="#3f8f36" stroke-width="0.5" fill="none" opacity="0.7"/>
<path d="M633.6 76.7 Q634.2 79.2 635.2 83.8" stroke="#3f8f36" stroke-width="0.5" fill="none" opacity="0.7"/>
<path d="M631.1 78.1 Q633.3 81.3 634.8 87.8" stroke="#3f8f36" stroke-width="0.5" fill="none" opacity="0.7"/>
<path d="M628.7 79.6 Q629.4 82.1 632.0 85.5" stroke="#3f8f36" stroke-width="0.5" fill="none" opacity="0.7"/>
<path d="M626.5 81.4 Q628.7 82.5 630.6 86.6" stroke="#3f8f36" stroke-width="0.5" fill="none" opacity="0.7"/>
<path d="M624.6 83.3 Q626.6 87.5 632.3 90.9" stroke="#3f8f36" stroke-width="0.5" fill="none" opacity="0.7"/>
<path d="M622.8 85.4 Q628.3 87.5 633.2 93.0" stroke="#3f8f36" stroke-width="0.5" fill="none" opacity="0.7"/>
<path d="M621.1 87.8 Q625.2 89.4 630.5 92.6" stroke="#3f8f36" stroke-width="0.5" fill="none" opacity="0.7"/>
<path d="M619.6 90.3 Q620.9 92.3 626.4 92.5" stroke="#3f8f36" stroke-width="0.5" fill="none" opacity="0.7"/>
<path d="M618.3 93.0 Q621.1 94.7 627.9 94.7" stroke="#3f8f36" stroke-width="0.5" fill="none" opacity="0.7"/>
<path d="M617.2 96.0 Q619.3 96.7 624.5 96.1" stroke="#3f8f36" stroke-width="0.5" fill="none" opacity="0.7"/>
<circle cx="632.4" cy="96.0" r="2.6" fill="#35632f" opacity="0.7"/>
<circle cx="637.3" cy="100.6" r="2.6" fill="#35632f" opacity="0.7"/>
<path d="M614.7 131.0 Q618.8 131.4 624.2 133.0" stroke="#3f8f36" stroke-width="0.5" fill="none" opacity="0.7"/>
<path d="M615.6 134.3 Q619.7 134.1 625.1 134.9" stroke="#3f8f36" stroke-width="0.5" fill="none" opacity="0.7"/>
<path d="M616.7 137.3 Q619.8 137.5 625.9 136.5" stroke="#3f8f36" stroke-width="0.5" fill="none" opacity="0.7"/>
<path d="M618.0 140.1 Q624.5 137.7 630.6 137.1" stroke="#3f8f36" stroke-width="0.5" fill="none" opacity="0.7"/>
<path d="M619.4 142.7 Q624.5 140.4 630.4 138.3" stroke="#3f8f36" stroke-width="0.5" fill="none" opacity="0.7"/>
<path d="M621.0 145.1 Q623.0 144.2 628.1 140.9" stroke="#3f8f36" stroke-width="0.5" fill="none" opacity="0.7"/>
<path d="M622.8 147.4 Q624.1 146.5 629.0 142.3" stroke="#3f8f36" stroke-width="0.5" fill="none" opacity="0.7"/>
<path d="M624.8 149.4 Q627.7 146.2 632.3 140.9" stroke="#3f8f36" stroke-width="0.5" fill="none" opacity="0.7"/>
<path d="M627.0 151.3 Q629.4 147.4 633.4 141.3" stroke="#3f8f36" stroke-width="0.5" fill="none" opacity="0.7"/>
<path d="M629.4 153.0 Q632.3 147.3 634.4 141.4" stroke="#3f8f36" stroke-width="0.5" fill="none" opacity="0.7"/>
<path d="M631.9 154.6 Q631.8 153.3 633.5 148.8" stroke="#3f8f36" stroke-width="0.5" fill="none" opacity="0.7"/>
<path d="M634.7 156.0 Q635.2 150.9 636.1 143.7" stroke="#3f8f36" stroke-width="0.5" fill="none" opacity="0.7"/>
<path d="M637.8 157.2 Q637.3 152.0 637.3 144.3" stroke="#3f8f36" stroke-width="0.5" fill="none" opacity="0.7"/>
<circle cx="631.9" cy="137.2" r="2.6" fill="#35632f" opacity="0.7"/>
<circle cx="640.3" cy="132.9" r="2.6" fill="#35632f" opacity="0.7"/>
<path d="M678.5 157.3 Q678.2 155.4 678.8 150.7" stroke="#3f8f36" stroke-width="0.5" fill="none" opacity="0.7"/>
<path d="M681.3 156.6 Q681.5 150.7 680.2 143.9" stroke="#3f8f36" stroke-width="0.5" fill="none" opacity="0.7"/>
<path d="M684.0 155.8 Q682.8 154.0 682.5 149.1" stroke="#3f8f36" stroke-width="0.5" fill="none" opacity="0.7"/>
<path d="M686.5 154.7 Q684.6 153.6 684.1 148.5" stroke="#3f8f36" stroke-width="0.5" fill="none" opacity="0.7"/>
<path d="M688.7 153.5 Q685.7 150.1 683.2 143.3" stroke="#3f8f36" stroke-width="0.5" fill="none" opacity="0.7"/>
<path d="M690.8 152.1 Q688.3 149.0 684.9 144.1" stroke="#3f8f36" stroke-width="0.5" fill="none" opacity="0.7"/>
<path d="M692.7 150.5 Q691.4 148.0 687.6 145.2" stroke="#3f8f36" stroke-width="0.5" fill="none" opacity="0.7"/>
<path d="M694.3 148.7 Q692.8 146.8 689.0 144.3" stroke="#3f8f36" stroke-width="0.5" fill="none" opacity="0.7"/>
<path d="M695.8 146.7 Q693.6 145.6 690.0 143.1" stroke="#3f8f36" stroke-width="0.5" fill="none" opacity="0.7"/>
<path d="M697.1 144.5 Q694.0 143.9 690.3 141.5" stroke="#3f8f36" stroke-width="0.5" fill="none" opacity="0.7"/>
<path d="M698.2 142.1 Q693.7 139.9 685.9 138.6" stroke="#3f8f36" stroke-width="0.5" fill="none" opacity="0.7"/>
<path d="M699.1 139.6 Q697.0 138.2 691.1 138.4" stroke="#3f8f36" stroke-width="0.5" fill="none" opacity="0.7"/>
<path d="M699.8 136.8 Q696.9 137.0 692.4 136.8" stroke="#3f8f36" stroke-width="0.5" fill="none" opacity="0.7"/>
<circle cx="683.9" cy="138.5" r="2.6" fill="#35632f" opacity="0.7"/>
<circle cx="674.8" cy="142.6" r="2.6" fill="#35632f" opacity="0.7"/>
<path d="M700.2 101.6 Q696.9 101.7 692.9 100.3" stroke="#3f8f36" stroke-width="0.5" fill="none" opacity="0.7"/>
<path d="M699.6 98.4 Q694.4 98.7 688.1 98.0" stroke="#3f8f36" stroke-width="0.5" fill="none" opacity="0.7"/>
<path d="M698.7 95.4 Q694.6 96.8 690.7 96.3" stroke="#3f8f36" stroke-width="0.5" fill="none" opacity="0.7"/>
<path d="M697.6 92.6 Q695.6 93.0 691.2 94.3" stroke="#3f8f36" stroke-width="0.5" fill="none" opacity="0.7"/>
<path d="M696.4 89.9 Q694.0 90.9 689.4 93.1" stroke="#3f8f36" stroke-width="0.5" fill="none" opacity="0.7"/>
<path d="M695.0 87.5 Q692.1 89.4 687.7 92.1" stroke="#3f8f36" stroke-width="0.5" fill="none" opacity="0.7"/>
<path d="M693.3 85.2 Q689.3 88.8 683.8 93.6" stroke="#3f8f36" stroke-width="0.5" fill="none" opacity="0.7"/>
<path d="M691.5 83.0 Q689.8 85.2 685.0 90.7" stroke="#3f8f36" stroke-width="0.5" fill="none" opacity="0.7"/>
<path d="M689.4 81.1 Q687.2 84.1 685.6 87.2" stroke="#3f8f36" stroke-width="0.5" fill="none" opacity="0.7"/>
<path d="M687.2 79.3 Q685.9 83.2 682.2 90.6" stroke="#3f8f36" stroke-width="0.5" fill="none" opacity="0.7"/>
<path d="M684.7 77.6 Q683.2 81.1 682.6 85.1" stroke="#3f8f36" stroke-width="0.5" fill="none" opacity="0.7"/>
<path d="M682.0 76.1 Q682.4 79.6 680.5 87.2" stroke="#3f8f36" stroke-width="0.5" fill="none" opacity="0.7"/>
<path d="M679.0 74.8 Q680.1 76.4 679.1 82.1" stroke="#3f8f36" stroke-width="0.5" fill="none" opacity="0.7"/>
<circle cx="683.7" cy="98.9" r="2.6" fill="#35632f" opacity="0.7"/>
<circle cx="678.2" cy="92.9" r="2.6" fill="#35632f" opacity="0.7"/>
<path d="M654.4 108.7 Q648.4 95.2 644.8 78.4" stroke="#3f8f36" stroke-width="0.55" fill="none" opacity="0.6"/>
<path d="M644.0 109.4 Q639.2 93.1 638.6 79.6" stroke="#3f8f36" stroke-width="0.55" fill="none" opacity="0.6"/>
<path d="M648.8 102.0 Q644.3 89.4 635.6 79.9" stroke="#3f8f36" stroke-width="0.55" fill="none" opacity="0.6"/>
<path d="M649.0 101.7 Q638.9 91.1 632.1 81.8" stroke="#3f8f36" stroke-width="0.55" fill="none" opacity="0.6"/>
<path d="M642.9 109.1 Q637.8 98.1 627.9 85.6" stroke="#3f8f36" stroke-width="0.55" fill="none" opacity="0.6"/>
<path d="M645.5 104.2 Q633.2 97.9 625.7 87.6" stroke="#3f8f36" stroke-width="0.55" fill="none" opacity="0.6"/>
<path d="M648.4 110.1 Q636.1 102.2 624.0 92.0" stroke="#3f8f36" stroke-width="0.55" fill="none" opacity="0.6"/>
<path d="M652.1 108.9 Q638.7 104.2 622.8 95.5" stroke="#3f8f36" stroke-width="0.55" fill="none" opacity="0.6"/>
<path d="M646.0 105.5 Q632.4 103.2 620.3 99.1" stroke="#3f8f36" stroke-width="0.55" fill="none" opacity="0.6"/>
<path d="M645.1 128.9 Q633.7 130.1 618.6 130.5" stroke="#3f8f36" stroke-width="0.55" fill="none" opacity="0.6"/>
<path d="M643.8 128.9 Q629.6 132.6 619.6 134.9" stroke="#3f8f36" stroke-width="0.55" fill="none" opacity="0.6"/>
<path d="M644.3 128.4 Q634.0 134.0 621.3 138.8" stroke="#3f8f36" stroke-width="0.55" fill="none" opacity="0.6"/>
<path d="M649.2 125.6 Q634.4 134.3 624.3 141.9" stroke="#3f8f36" stroke-width="0.55" fill="none" opacity="0.6"/>
<path d="M643.9 129.0 Q635.5 139.5 625.9 145.7" stroke="#3f8f36" stroke-width="0.55" fill="none" opacity="0.6"/>
<path d="M644.3 127.0 Q635.1 135.9 628.9 148.1" stroke="#3f8f36" stroke-width="0.55" fill="none" opacity="0.6"/>
<path d="M643.4 129.9 Q636.9 141.3 632.2 150.9" stroke="#3f8f36" stroke-width="0.55" fill="none" opacity="0.6"/>
<path d="M648.2 133.3 Q644.5 142.8 636.9 153.5" stroke="#3f8f36" stroke-width="0.55" fill="none" opacity="0.6"/>
<path d="M643.7 124.0 Q643.7 140.4 640.4 153.3" stroke="#3f8f36" stroke-width="0.55" fill="none" opacity="0.6"/>
<path d="M676.1 123.2 Q676.9 136.9 678.1 152.8" stroke="#3f8f36" stroke-width="0.55" fill="none" opacity="0.6"/>
<path d="M667.0 129.1 Q672.8 142.7 680.4 152.9" stroke="#3f8f36" stroke-width="0.55" fill="none" opacity="0.6"/>
<path d="M674.7 120.2 Q681.9 132.7 685.3 149.8" stroke="#3f8f36" stroke-width="0.55" fill="none" opacity="0.6"/>
<path d="M673.0 128.5 Q678.2 137.2 688.1 149.5" stroke="#3f8f36" stroke-width="0.55" fill="none" opacity="0.6"/>
<path d="M666.2 128.9 Q676.0 135.8 689.5 147.3" stroke="#3f8f36" stroke-width="0.55" fill="none" opacity="0.6"/>
<path d="M671.2 130.4 Q683.5 139.9 692.6 144.9" stroke="#3f8f36" stroke-width="0.55" fill="none" opacity="0.6"/>
<path d="M669.8 125.1 Q679.5 132.8 694.1 140.8" stroke="#3f8f36" stroke-width="0.55" fill="none" opacity="0.6"/>
<path d="M669.9 124.6 Q683.7 131.0 695.5 137.2" stroke="#3f8f36" stroke-width="0.55" fill="none" opacity="0.6"/>
<path d="M673.6 129.3 Q687.3 129.6 697.0 134.1" stroke="#3f8f36" stroke-width="0.55" fill="none" opacity="0.6"/>
<path d="M676.0 108.2 Q687.4 107.6 697.4 102.9" stroke="#3f8f36" stroke-width="0.55" fill="none" opacity="0.6"/>
<path d="M669.5 104.7 Q684.7 101.1 695.4 97.9" stroke="#3f8f36" stroke-width="0.55" fill="none" opacity="0.6"/>
<path d="M669.2 106.2 Q682.3 101.2 693.9 94.1" stroke="#3f8f36" stroke-width="0.55" fill="none" opacity="0.6"/>
<path d="M670.6 105.3 Q681.6 99.3 692.3 90.4" stroke="#3f8f36" stroke-width="0.55" fill="none" opacity="0.6"/>
<path d="M671.7 101.3 Q678.9 93.6 690.2 86.4" stroke="#3f8f36" stroke-width="0.55" fill="none" opacity="0.6"/>
<path d="M672.8 101.8 Q681.7 90.5 687.6 83.6" stroke="#3f8f36" stroke-width="0.55" fill="none" opacity="0.6"/>
<path d="M670.4 109.1 Q675.3 94.1 683.9 82.5" stroke="#3f8f36" stroke-width="0.55" fill="none" opacity="0.6"/>
<path d="M672.1 104.2 Q678.5 91.8 680.5 79.6" stroke="#3f8f36" stroke-width="0.55" fill="none" opacity="0.6"/>
<path d="M671.1 108.0 Q672.6 94.4 676.2 78.6" stroke="#3f8f36" stroke-width="0.55" fill="none" opacity="0.6"/>
<polyline points="640.5,99.6 635.2,98.5 630.7,95.5 627.7,97.8" fill="none" stroke="#4fb242" stroke-width="0.75" stroke-linejoin="round" stroke-linecap="round" opacity="0.9"/>
<polyline points="644.0,97.0 642.0,91.7 642.8,85.7" fill="none" stroke="#4fb242" stroke-width="0.75" stroke-linejoin="round" stroke-linecap="round" opacity="0.9"/>
<polyline points="652.1,100.5 650.3,93.2 648.1,87.2" fill="none" stroke="#4fb242" stroke-width="0.75" stroke-linejoin="round" stroke-linecap="round" opacity="0.9"/>
<polyline points="635.2,98.5 633.7,103.8 629.2,105.3" fill="none" stroke="#4fb242" stroke-width="0.75" stroke-linejoin="round" stroke-linecap="round" opacity="0.9"/>
<polyline points="676.0,102.6 681.3,97.8 683.6,92.5" fill="none" stroke="#4fb242" stroke-width="0.75" stroke-linejoin="round" stroke-linecap="round" opacity="0.9"/>
<polyline points="669.2,103.1 671.5,96.3 674.5,90.2" fill="none" stroke="#4fb242" stroke-width="0.75" stroke-linejoin="round" stroke-linecap="round" opacity="0.9"/>
<polyline points="676.0,109.9 683.6,109.9 689.6,105.3" fill="none" stroke="#4fb242" stroke-width="0.75" stroke-linejoin="round" stroke-linecap="round" opacity="0.9"/>
<polyline points="677.8,112.9 685.1,112.1" fill="none" stroke="#4fb242" stroke-width="0.75" stroke-linejoin="round" stroke-linecap="round" opacity="0.9"/>
<polyline points="681.3,97.8 686.6,98.5 691.9,95.5" fill="none" stroke="#4fb242" stroke-width="0.75" stroke-linejoin="round" stroke-linecap="round" opacity="0.9"/>
<polyline points="671.8,132.8 673.0,140.1 676.0,146.1" fill="none" stroke="#4fb242" stroke-width="0.75" stroke-linejoin="round" stroke-linecap="round" opacity="0.9"/>
<polyline points="676.0,127.2 682.1,131.0 686.6,137.1" fill="none" stroke="#4fb242" stroke-width="0.75" stroke-linejoin="round" stroke-linecap="round" opacity="0.9"/>
<polyline points="662.1,134.3 663.2,140.1" fill="none" stroke="#4fb242" stroke-width="0.75" stroke-linejoin="round" stroke-linecap="round" opacity="0.9"/>
<polyline points="682.1,131.0 686.6,129.5 692.6,131.0" fill="none" stroke="#4fb242" stroke-width="0.75" stroke-linejoin="round" stroke-linecap="round" opacity="0.9"/>
<polyline points="641.3,135.6 639.8,141.6 640.5,149.2" fill="none" stroke="#4fb242" stroke-width="0.75" stroke-linejoin="round" stroke-linecap="round" opacity="0.9"/>
<polyline points="637.5,131.0 632.2,134.0 627.7,140.1" fill="none" stroke="#4fb242" stroke-width="0.75" stroke-linejoin="round" stroke-linecap="round" opacity="0.9"/>
<polyline points="650.3,132.8 648.8,140.1 645.8,146.1" fill="none" stroke="#4fb242" stroke-width="0.75" stroke-linejoin="round" stroke-linecap="round" opacity="0.9"/>
<polyline points="632.2,134.0 627.7,132.5 622.4,134.0" fill="none" stroke="#4fb242" stroke-width="0.75" stroke-linejoin="round" stroke-linecap="round" opacity="0.9"/>
<polyline points="640.5,111.4 636.0,110.6" fill="none" stroke="#4fb242" stroke-width="0.75" stroke-linejoin="round" stroke-linecap="round" opacity="0.9"/>
<polyline points="657.9,115.2 653.4,109.9 650.3,105.3 645.8,103.8 640.5,99.6" fill="none" stroke="#5fd24a" stroke-width="1.1" stroke-linejoin="round" stroke-linecap="round"/>
<polyline points="657.9,115.2 658.2,109.1 654.9,103.8 652.1,100.5" fill="none" stroke="#5fd24a" stroke-width="1.1" stroke-linejoin="round" stroke-linecap="round"/>
<polyline points="650.3,105.3 648.8,108.4 644.6,108.7" fill="none" stroke="#5fd24a" stroke-width="1.1" stroke-linejoin="round" stroke-linecap="round"/>
<polyline points="645.8,103.8 643.5,100.8 644.0,97.0" fill="none" stroke="#5fd24a" stroke-width="1.1" stroke-linejoin="round" stroke-linecap="round"/>
<polyline points="657.9,115.2 665.4,110.2 670.3,105.6 676.0,102.6" fill="none" stroke="#5fd24a" stroke-width="1.1" stroke-linejoin="round" stroke-linecap="round"/>
<polyline points="670.3,105.6 671.5,109.1 676.0,109.9" fill="none" stroke="#5fd24a" stroke-width="1.1" stroke-linejoin="round" stroke-linecap="round"/>
<polyline points="665.4,110.2 667.0,105.3 669.2,103.1" fill="none" stroke="#5fd24a" stroke-width="1.1" stroke-linejoin="round" stroke-linecap="round"/>
<polyline points="657.9,115.2 665.4,117.1 673.0,115.3 677.8,112.9" fill="none" stroke="#5fd24a" stroke-width="1.1" stroke-linejoin="round" stroke-linecap="round"/>
<polyline points="657.9,115.2 663.6,121.7 669.7,126.2 671.8,132.8" fill="none" stroke="#5fd24a" stroke-width="1.1" stroke-linejoin="round" stroke-linecap="round"/>
<polyline points="665.4,123.5 664.2,128.8 662.1,134.3" fill="none" stroke="#5fd24a" stroke-width="1.1" stroke-linejoin="round" stroke-linecap="round"/>
<polyline points="669.7,126.2 673.8,125.0 676.0,127.2" fill="none" stroke="#5fd24a" stroke-width="1.1" stroke-linejoin="round" stroke-linecap="round"/>
<polyline points="657.9,115.2 650.3,123.5 644.6,126.5 641.3,135.6" fill="none" stroke="#5fd24a" stroke-width="1.1" stroke-linejoin="round" stroke-linecap="round"/>
<polyline points="655.2,118.9 653.7,126.5 650.3,132.8" fill="none" stroke="#5fd24a" stroke-width="1.1" stroke-linejoin="round" stroke-linecap="round"/>
<polyline points="644.6,126.5 641.3,126.5 637.5,131.0" fill="none" stroke="#5fd24a" stroke-width="1.1" stroke-linejoin="round" stroke-linecap="round"/>
<polyline points="657.9,115.2 649.1,111.7 640.5,111.4" fill="none" stroke="#5fd24a" stroke-width="1.1" stroke-linejoin="round" stroke-linecap="round"/>
<circle cx="657.9" cy="115.3" r="1.6" fill="#7de868"/>
</g>
<text x="414" y="181.5" font-size="12.7" text-anchor="middle">Laser-induced</text>
<text x="413.5" y="197.5" font-size="12.7" text-anchor="middle">CNV model</text>
<text x="529" y="181.5" font-size="12.7" text-anchor="middle">siRNA delivered</text>
<text x="531" y="197.5" font-size="12.7" text-anchor="middle">by intravitreal injection</text>
<text x="655.5" y="181.5" font-size="12.7" text-anchor="middle">Choroidal</text>
<text x="657.5" y="197.5" font-size="12.7" text-anchor="middle">neovasculature</text>
</g>
<g id="pb">
<text x="-1" y="254.6" font-size="20" font-weight="bold">b</text>
<rect x="457.4" y="265.9" width="269.4" height="127.3" rx="15" fill="#fde5e1" stroke="#f3a09c" stroke-width="1.2"/>
<text x="590.5" y="261" font-size="11.4" text-anchor="middle" font-weight="bold">Technical feasibility (AB5)</text>
<rect x="0.5" y="301.2" width="90.5" height="56.4" rx="6.5" fill="#fbcfcd" stroke="#f28b88" stroke-width="1"/>
<rect x="114.4" y="301.2" width="91.6" height="56.4" rx="6.5" fill="#fbcfcd" stroke="#f28b88" stroke-width="1"/>
<rect x="228.6" y="301.2" width="91.2" height="56.4" rx="6.5" fill="#fbcfcd" stroke="#f28b88" stroke-width="1"/>
<rect x="343" y="301.2" width="91" height="56.4" rx="6.5" fill="#fbcfcd" stroke="#f28b88" stroke-width="1"/>
<path d="M91.5 328.6 H104.0" stroke="#000" stroke-width="1.8" fill="none"/><path d="M102.5 324.0 L114 328.6 L102.5 333.20000000000005 Z" fill="#000"/>
<path d="M206.5 328.6 H218.6" stroke="#000" stroke-width="1.8" fill="none"/><path d="M217.1 324.0 L228.6 328.6 L217.1 333.20000000000005 Z" fill="#000"/>
<path d="M320.5 328.6 H332.6" stroke="#000" stroke-width="1.8" fill="none"/><path d="M331.1 324.0 L342.6 328.6 L331.1 333.20000000000005 Z" fill="#000"/>
<text x="45.7" y="315" font-size="10" text-anchor="middle" font-weight="bold">Target–disease</text>
<text x="45.7" y="327.6" font-size="10" text-anchor="middle" font-weight="bold">linkage</text>
<text x="46.5" y="340.3" font-size="10" text-anchor="middle" font-weight="bold">(AB1)</text>
<text x="47" y="350.4" font-size="8.9" text-anchor="middle" fill="#222">Cancer</text>
<text x="159.8" y="317.2" font-size="10.4" text-anchor="middle" font-weight="bold">Target-related</text>
<text x="160.2" y="327.9" font-size="10.4" text-anchor="middle" font-weight="bold">safety (AB2)</text>
<text x="160" y="338.6" font-size="8.9" text-anchor="middle" fill="#222">Genetic link to</text>
<text x="161.2" y="348.5" font-size="8.9" text-anchor="middle" fill="#222">other diseases</text>
<text x="273.5" y="321.7" font-size="10" text-anchor="middle" font-weight="bold">Strategic issues</text>
<text x="273.5" y="331.4" font-size="10" text-anchor="middle" font-weight="bold">(AB4)</text>
<text x="274.2" y="342.4" font-size="8.9" text-anchor="middle" fill="#222">Novelty of the target</text>
<text x="388.5" y="320.7" font-size="10" text-anchor="middle" font-weight="bold">Technical</text>
<text x="388.5" y="330.8" font-size="10" text-anchor="middle" font-weight="bold">feasibility</text>
<text x="388.5" y="341" font-size="10" text-anchor="middle" font-weight="bold">(AB5)</text>
<rect x="0" y="359.4" width="57" height="18.6" rx="5.5" fill="#efefef"/>
<text x="10.7" y="370.9" font-size="8.65" fill="#222">50 genes</text>
<rect x="115" y="359.4" width="56" height="18.6" rx="5.5" fill="#efefef"/>
<text x="124.8" y="370.9" font-size="8.65" fill="#222">41 genes</text>
<rect x="229.5" y="359.4" width="56" height="18.6" rx="5.5" fill="#efefef"/>
<text x="239.6" y="370.9" font-size="8.65" fill="#222">19 genes</text>
<rect x="343.7" y="359.4" width="55.8" height="18.6" rx="5.5" fill="#efefef"/>
<text x="356" y="370.9" font-size="8.65" fill="#222">6 genes</text>
<path d="M434 308.5 L459.6 277" stroke="#111" stroke-width="1.8" stroke-dasharray="4.6 2.4" fill="none"/>
<path d="M434 350.3 L459.6 381.1" stroke="#111" stroke-width="1.8" stroke-dasharray="4.6 2.4" fill="none"/>
<rect x="464" y="283.8" width="68" height="34.7" rx="5.5" fill="#fbd3e3" stroke="#f3a6c6" stroke-width="0.8"/>
<text x="497.8" y="303.8" font-size="8.9" text-anchor="middle" fill="#222">EC-specificity</text>
<rect x="464" y="320" width="45.5" height="13" rx="3.5" fill="#efefef"/>
<text x="470.7" y="329.3" font-size="8.7" fill="#222">6 genes</text>
<rect x="464" y="339" width="68" height="34.8" rx="5.5" fill="#fbd3e3" stroke="#f3a6c6" stroke-width="0.8"/>
<text x="497.6" y="350.5" font-size="8.9" text-anchor="middle" fill="#222">Protein</text>
<text x="497.6" y="359.6" font-size="8.9" text-anchor="middle" fill="#222">localization</text>
<text x="497.6" y="368.5" font-size="8.9" text-anchor="middle" fill="#222">in the cell</text>
<rect x="464" y="375.3" width="45.5" height="12.3" rx="3.5" fill="#efefef"/>
<text x="468.6" y="383.7" font-size="8.7" fill="#222">17 genes</text>
<path d="M533 283.2 H540.2 V376.2 H533" stroke="#000" stroke-width="1.5" fill="none"/>
<path d="M540.2 329.1 H553.5" stroke="#000" stroke-width="1.5" fill="none"/><path d="M552 325.3 L563 329.1 L552 332.90000000000003 Z" fill="#000"/>
<rect x="563.8" y="282.5" width="95.4" height="94.3" rx="10.5" fill="#fabde0" stroke="#c23b93" stroke-width="1.1"/>
<circle cx="611.3" cy="309.7" r="11.2" fill="#fbd0e6" stroke="#b0267f" stroke-width="1.1"/>
<text x="611.3" y="313.5" font-size="10.5" text-anchor="middle" font-weight="bold">6</text>
<text x="611.3" y="334.5" font-size="10.3" text-anchor="middle" font-weight="bold">Prioritized targets</text>
<text x="611.3" y="345" font-size="10.3" text-anchor="middle" font-weight="bold">for further</text>
<text x="611.3" y="355.2" font-size="10.3" text-anchor="middle" font-weight="bold">validation</text>
<path d="M658.8 291.8 L680 299.4 M658.8 367.1 L680 359.8" stroke="#a43070" stroke-width="1.1" stroke-dasharray="3.4 1.8" fill="none"/>
<rect x="673.9" y="299.6" width="46.6" height="59.8" rx="6" fill="#fdecef" stroke="#962a5e" stroke-width="1.8"/>
<text x="696.9" y="310.3" font-size="8.6" text-anchor="middle" font-weight="bold" font-style="italic">CD93</text>
<text x="696.9" y="319.16" font-size="8.6" text-anchor="middle" font-weight="bold" font-style="italic">TCF4</text>
<text x="696.9" y="328.02" font-size="8.6" text-anchor="middle" font-weight="bold" font-style="italic">ADGRL4</text>
<text x="696.9" y="336.88" font-size="8.6" text-anchor="middle" font-weight="bold" font-style="italic">GJA1</text>
<text x="696.9" y="345.74" font-size="8.6" text-anchor="middle" font-weight="bold" font-style="italic">CCDC85B</text>
<text x="696.9" y="354.6" font-size="8.6" text-anchor="middle" font-weight="bold" font-style="italic">MYH9</text>
</g>
<g id="pc">
<text x="-1" y="424.3" font-size="20" font-weight="bold">c</text>
<text x="74.7" y="432.4" font-size="12.5" text-anchor="middle" font-weight="bold">tip cells</text>
<circle cx="74.8" cy="511" r="75.2" fill="#fe0000"/>
<path d="M74.7 511 L71.1 435.90000000000003 A75.2 75.2 0 0 1 76.0 435.8 Z" fill="#cccccc"/>
<circle cx="4.2" cy="596" r="4.6" fill="#cccccc"/>
<text x="15.7" y="599.6" font-size="11.1">peri-tumoral (0.7%)</text>
<circle cx="4.2" cy="611" r="4.6" fill="#fd2b2b"/>
<text x="15.7" y="614.6" font-size="11.1">tumor (99.3%)</text>
<text x="207.5" y="432" font-size="12.5" text-anchor="middle">patient</text>
<rect x="224.6" y="434.6" width="184.4" height="16.3" fill="#cccccc"/><rect x="224.6" y="434.6" width="184.4" height="16.3" fill="#fd2b2b"/>
<text x="215" y="446.8" font-size="11.8" text-anchor="end">#1</text>
<rect x="224.6" y="454.0" width="184.4" height="16.3" fill="#cccccc"/><rect x="224.6" y="454.0" width="184.4" height="16.3" fill="#fd2b2b"/>
<text x="215" y="466.2" font-size="11.8" text-anchor="end">#2</text>
<rect x="224.6" y="473.4" width="184.4" height="16.3" fill="#cccccc"/><rect x="224.6" y="473.4" width="184.4" height="16.3" fill="#fd2b2b"/>
<text x="215" y="485.6" font-size="11.8" text-anchor="end">#3</text>
<rect x="224.6" y="492.8" width="184.4" height="16.3" fill="#cccccc"/><rect x="224.6" y="492.8" width="184.4" height="16.3" fill="#fd2b2b"/>
<text x="215" y="505.0" font-size="11.8" text-anchor="end">#4</text>
<rect x="224.6" y="512.2" width="184.4" height="16.3" fill="#cccccc"/><rect x="224.6" y="512.2" width="174.4" height="16.3" fill="#fd2b2b"/>
<text x="215" y="524.4000000000001" font-size="11.8" text-anchor="end">#5</text>
<rect x="224.6" y="531.6" width="184.4" height="16.3" fill="#cccccc"/><rect x="224.6" y="531.6" width="184.4" height="16.3" fill="#fd2b2b"/>
<text x="215" y="543.8000000000001" font-size="11.8" text-anchor="end">#6</text>
<rect x="224.6" y="551.0" width="184.4" height="16.3" fill="#cccccc"/><rect x="224.6" y="551.0" width="166.9" height="16.3" fill="#fd2b2b"/>
<text x="215" y="563.2" font-size="11.8" text-anchor="end">#7</text>
<rect x="224.6" y="570.4" width="184.4" height="16.3" fill="#cccccc"/><rect x="224.6" y="570.4" width="138.7" height="16.3" fill="#fd2b2b"/>
<text x="215" y="582.6" font-size="11.8" text-anchor="end">#8</text>
<path d="M224.6 434 V586.6 H409.0" stroke="#000" stroke-width="0.9" fill="none"/>
<line x1="224.6" y1="586.6" x2="224.6" y2="589" stroke="#000" stroke-width="0.7"/><text x="224.6" y="596.6" font-size="7.6" text-anchor="middle">0</text>
<line x1="261.5" y1="586.6" x2="261.5" y2="589" stroke="#000" stroke-width="0.7"/><text x="261.5" y="596.6" font-size="7.6" text-anchor="middle">20</text>
<line x1="298.4" y1="586.6" x2="298.4" y2="589" stroke="#000" stroke-width="0.7"/><text x="298.4" y="596.6" font-size="7.6" text-anchor="middle">40</text>
<line x1="335.2" y1="586.6" x2="335.2" y2="589" stroke="#000" stroke-width="0.7"/><text x="335.2" y="596.6" font-size="7.6" text-anchor="middle">60</text>
<line x1="372.1" y1="586.6" x2="372.1" y2="589" stroke="#000" stroke-width="0.7"/><text x="372.1" y="596.6" font-size="7.6" text-anchor="middle">80</text>
<line x1="409.0" y1="586.6" x2="409.0" y2="589" stroke="#000" stroke-width="0.7"/><text x="409.0" y="596.6" font-size="7.6" text-anchor="middle">100</text>
<text x="316.5" y="612.5" font-size="10.2" text-anchor="middle">normalized tip cell distribution (%)</text>
<rect x="421.6" y="434.6" width="103.2" height="16.3" fill="#cccccc"/><rect x="421.6" y="434.6" width="103.2" height="16.3" fill="#fd2b2b"/>
<rect x="421.6" y="454.0" width="14.0" height="16.3" fill="#cccccc"/><rect x="421.6" y="454.0" width="14.0" height="16.3" fill="#fd2b2b"/>
<rect x="421.6" y="473.4" width="184.8" height="16.3" fill="#cccccc"/><rect x="421.6" y="473.4" width="184.8" height="16.3" fill="#fd2b2b"/>
<rect x="421.6" y="492.8" width="1.1" height="16.3" fill="#cccccc"/><rect x="421.6" y="492.8" width="1.1" height="16.3" fill="#fd2b2b"/>
<rect x="421.6" y="512.2" width="8.2" height="16.3" fill="#cccccc"/><rect x="421.6" y="512.2" width="6.5" height="16.3" fill="#fd2b2b"/>
<rect x="421.6" y="531.6" width="24.4" height="16.3" fill="#cccccc"/><rect x="421.6" y="531.6" width="24.4" height="16.3" fill="#fd2b2b"/>
<rect x="421.6" y="551.0" width="20.3" height="16.3" fill="#cccccc"/><rect x="421.6" y="551.0" width="18.0" height="16.3" fill="#fd2b2b"/>
<rect x="421.6" y="570.4" width="40.0" height="16.3" fill="#cccccc"/><rect x="421.6" y="570.4" width="37.0" height="16.3" fill="#fd2b2b"/>
<path d="M421.6 434 V586.6 H613.1" stroke="#000" stroke-width="0.9" fill="none"/>
<line x1="421.6" y1="586.6" x2="421.6" y2="589" stroke="#000" stroke-width="0.7"/><text x="421.6" y="596.6" font-size="7.6" text-anchor="middle">0</text>
<line x1="459.9" y1="586.6" x2="459.9" y2="589" stroke="#000" stroke-width="0.7"/><text x="459.9" y="596.6" font-size="7.6" text-anchor="middle">100</text>
<line x1="498.2" y1="586.6" x2="498.2" y2="589" stroke="#000" stroke-width="0.7"/><text x="498.2" y="596.6" font-size="7.6" text-anchor="middle">200</text>
<line x1="536.5" y1="586.6" x2="536.5" y2="589" stroke="#000" stroke-width="0.7"/><text x="536.5" y="596.6" font-size="7.6" text-anchor="middle">300</text>
<line x1="574.8" y1="586.6" x2="574.8" y2="589" stroke="#000" stroke-width="0.7"/><text x="574.8" y="596.6" font-size="7.6" text-anchor="middle">400</text>
<line x1="613.1" y1="586.6" x2="613.1" y2="589" stroke="#000" stroke-width="0.7"/><text x="613.1" y="596.6" font-size="7.6" text-anchor="middle">500</text>
<text x="517" y="612.5" font-size="10.2" text-anchor="middle">absolute tip cell number</text>
<circle cx="627.5" cy="567.7" r="4.6" fill="#cccccc"/>
<text x="638.8" y="571.4" font-size="11.1">peri-tumoral</text>
<circle cx="627.5" cy="583" r="4.6" fill="#fd2b2b"/>
<text x="638.8" y="586.6" font-size="11.1">tumor</text>
</g>
<g id="pd">
<text x="-1" y="649.8" font-size="20" font-weight="bold">d</text>
<text x="110.5" y="665.6" font-size="16" text-anchor="end">Epithelial</text>
<line x1="114.6" y1="660.0" x2="118.5" y2="660.0" stroke="#000" stroke-width="1"/>
<text x="110.5" y="690.3000000000001" font-size="16" text-anchor="end">Erythroblast</text>
<line x1="114.6" y1="684.7" x2="118.5" y2="684.7" stroke="#000" stroke-width="1"/>
<text x="110.5" y="715.0" font-size="16" text-anchor="end">Alveolar</text>
<line x1="114.6" y1="709.4" x2="118.5" y2="709.4" stroke="#000" stroke-width="1"/>
<text x="110.5" y="739.7" font-size="16" text-anchor="end">Fibroblast</text>
<line x1="114.6" y1="734.1" x2="118.5" y2="734.1" stroke="#000" stroke-width="1"/>
<text x="110.5" y="764.4" font-size="16" text-anchor="end">B cell</text>
<line x1="114.6" y1="758.8" x2="118.5" y2="758.8" stroke="#000" stroke-width="1"/>
<text x="110.5" y="789.1" font-size="16" text-anchor="end">Mast cell</text>
<line x1="114.6" y1="783.5" x2="118.5" y2="783.5" stroke="#000" stroke-width="1"/>
<text x="110.5" y="813.8000000000001" font-size="16" text-anchor="end">T cell</text>
<line x1="114.6" y1="808.2" x2="118.5" y2="808.2" stroke="#000" stroke-width="1"/>
<text x="110.5" y="838.5" font-size="16" text-anchor="end">Myeloid</text>
<line x1="114.6" y1="832.9" x2="118.5" y2="832.9" stroke="#000" stroke-width="1"/>
<text x="110.5" y="863.2" font-size="16" text-anchor="end">Cancer</text>
<line x1="114.6" y1="857.6" x2="118.5" y2="857.6" stroke="#000" stroke-width="1"/>
<text x="110.5" y="887.9" font-size="16" text-anchor="end" font-weight="bold" fill="#b3151f">EC tip cell</text>
<line x1="114.6" y1="882.3" x2="118.5" y2="882.3" stroke="#000" stroke-width="1"/>
<text x="110.5" y="912.6" font-size="16" text-anchor="end" font-weight="bold">EC non-tip cell</text>
<line x1="114.6" y1="907.0" x2="118.5" y2="907.0" stroke="#000" stroke-width="1"/>
<path d="M118.5 650 V925.5 H280.6" stroke="#000" stroke-width="1.4" fill="none"/>
<circle cx="135" cy="660.0" r="3" fill="#4a90c8"/><circle cx="161" cy="660.0" r="1" fill="#5a9bd0"/><circle cx="186.9" cy="660.0" r="4.2" fill="#3f86c2"/><circle cx="212.7" cy="660.0" r="1.5" fill="#4a90c8"/><circle cx="238.6" cy="660.0" r="1" fill="#5a9bd0"/><circle cx="264.5" cy="660.0" r="3.3" fill="#3a7ec0"/>
<circle cx="135" cy="684.7" r="1" fill="#4a90c8"/><circle cx="161" cy="684.7" r="1" fill="#5a9bd0"/><circle cx="186.9" cy="684.7" r="1.5" fill="#2166ac"/><circle cx="212.7" cy="684.7" r="1" fill="#4a90c8"/><circle cx="238.6" cy="684.7" r="1" fill="#5a9bd0"/><circle cx="264.5" cy="684.7" r="1.6" fill="#2a6fb5"/>
<circle cx="135" cy="709.4" r="1.2" fill="#4a8fc8"/><circle cx="161" cy="709.4" r="1" fill="#5a9bd0"/><circle cx="186.9" cy="709.4" r="4" fill="#4f95ca"/><circle cx="212.7" cy="709.4" r="3.7" fill="#cfe3ef"/><circle cx="238.6" cy="709.4" r="1.05" fill="#5a9bd0"/><circle cx="264.5" cy="709.4" r="2.4" fill="#2f74b8"/>
<circle cx="135" cy="734.1" r="4.8" fill="#bcd9ec"/><circle cx="161" cy="734.1" r="1.05" fill="#5a9bd0"/><circle cx="186.9" cy="734.1" r="4.8" fill="#d9e8f2"/><circle cx="212.7" cy="734.1" r="2.3" fill="#62a5d0"/><circle cx="238.6" cy="734.1" r="1.05" fill="#5a9bd0"/><circle cx="264.5" cy="734.1" r="4.4" fill="#a8cde4"/>
<circle cx="135" cy="758.8" r="3.5" fill="#7ab3d8"/><circle cx="161" cy="758.8" r="1" fill="#5a9bd0"/><circle cx="186.9" cy="758.8" r="2.3" fill="#2f72b8"/><circle cx="212.7" cy="758.8" r="1" fill="#4a90c8"/><circle cx="238.6" cy="758.8" r="1" fill="#5a9bd0"/><circle cx="264.5" cy="758.8" r="3.6" fill="#5299cc"/>
<circle cx="135" cy="783.5" r="1" fill="#4a8fc8"/><circle cx="161" cy="783.5" r="1" fill="#5a9bd0"/><circle cx="186.9" cy="783.5" r="2.3" fill="#3079bc"/><circle cx="212.7" cy="783.5" r="1" fill="#4a90c8"/><circle cx="238.6" cy="783.5" r="1" fill="#5a9bd0"/><circle cx="264.5" cy="783.5" r="4.6" fill="#8ec0de"/>
<circle cx="135" cy="808.2" r="1" fill="#4a90c8"/><circle cx="161" cy="808.2" r="1" fill="#5a9bd0"/><circle cx="186.9" cy="808.2" r="3.3" fill="#8fc0de"/><circle cx="212.7" cy="808.2" r="1" fill="#4a90c8"/><circle cx="238.6" cy="808.2" r="1" fill="#5a9bd0"/><circle cx="264.5" cy="808.2" r="3.3" fill="#94c4e0"/>
<circle cx="135" cy="832.9" r="2" fill="#3f86c2"/><circle cx="161" cy="832.9" r="1" fill="#5a9bd0"/><circle cx="186.9" cy="832.9" r="4.3" fill="#4288c4"/><circle cx="212.7" cy="832.9" r="1.05" fill="#4a90c8"/><circle cx="238.6" cy="832.9" r="2.2" fill="#5a9ed0"/><circle cx="264.5" cy="832.9" r="4.2" fill="#4a8fc8"/>
<circle cx="135" cy="857.6" r="1" fill="#4a90c8"/><circle cx="161" cy="857.6" r="1" fill="#5a9bd0"/><circle cx="186.9" cy="857.6" r="3.6" fill="#4a94ca"/><circle cx="212.7" cy="857.6" r="1.8" fill="#5a9ed0"/><circle cx="238.6" cy="857.6" r="1.05" fill="#5a9bd0"/><circle cx="264.5" cy="857.6" r="3.5" fill="#4a90c8"/>
<circle cx="135" cy="882.3" r="10" fill="#bf3a33"/><circle cx="161" cy="882.3" r="8.7" fill="#b2182b"/><circle cx="186.9" cy="882.3" r="9.5" fill="#d05a45"/><circle cx="212.7" cy="882.3" r="8" fill="#b2182b"/><circle cx="238.6" cy="882.3" r="10" fill="#d6604d"/><circle cx="264.5" cy="882.3" r="9.5" fill="#b2182b"/>
<circle cx="135" cy="907.0" r="5.7" fill="#fbd5c0"/><circle cx="161" cy="907.0" r="3.7" fill="#fbe3d8"/><circle cx="186.9" cy="907.0" r="5.2" fill="#fbd0bc"/><circle cx="212.7" cy="907.0" r="3" fill="#f2f0f0"/><circle cx="238.6" cy="907.0" r="6" fill="#f5a07a"/><circle cx="264.5" cy="907.0" r="4.6" fill="#f8e8e0"/>
<line x1="135" y1="925.5" x2="135" y2="929.4" stroke="#000" stroke-width="1.2"/><text x="0" y="0" font-size="16" font-style="italic" text-anchor="end" transform="translate(143.2 941) rotate(-45)">TCF4</text>
<line x1="161" y1="925.5" x2="161" y2="929.4" stroke="#000" stroke-width="1.2"/><text x="0" y="0" font-size="16" font-style="italic" text-anchor="end" transform="translate(169.2 941) rotate(-45)">ADGRL4</text>
<line x1="186.9" y1="925.5" x2="186.9" y2="929.4" stroke="#000" stroke-width="1.2"/><text x="0" y="0" font-size="16" font-style="italic" text-anchor="end" transform="translate(195.1 941) rotate(-45)">MYH9</text>
<line x1="212.7" y1="925.5" x2="212.7" y2="929.4" stroke="#000" stroke-width="1.2"/><text x="0" y="0" font-size="16" font-style="italic" text-anchor="end" transform="translate(220.89999999999998 941) rotate(-45)">GJA1</text>
<line x1="238.6" y1="925.5" x2="238.6" y2="929.4" stroke="#000" stroke-width="1.2"/><text x="0" y="0" font-size="16" font-style="italic" text-anchor="end" transform="translate(246.79999999999998 941) rotate(-45)">CD93</text>
<line x1="264.5" y1="925.5" x2="264.5" y2="929.4" stroke="#000" stroke-width="1.2"/><text x="0" y="0" font-size="16" font-style="italic" text-anchor="end" transform="translate(272.7 941) rotate(-45)">CCDC85B</text>
<defs><linearGradient id="cb" x1="0" y1="0" x2="0" y2="1">
<stop offset="0.000" stop-color="#b2182b"/><stop offset="0.125" stop-color="#d6604d"/><stop offset="0.250" stop-color="#f4a582"/><stop offset="0.375" stop-color="#fddbc7"/><stop offset="0.500" stop-color="#f7f7f7"/><stop offset="0.625" stop-color="#d1e5f0"/><stop offset="0.750" stop-color="#92c5de"/><stop offset="0.875" stop-color="#4393c3"/><stop offset="1.000" stop-color="#2166ac"/></linearGradient></defs>
<text x="331.8" y="660" font-size="13" text-anchor="middle">Average</text>
<text x="331.8" y="675.2" font-size="13" text-anchor="middle">Expression</text>
<rect x="322.9" y="681" width="17.8" height="83.6" fill="url(#cb)"/>
<path d="M322.9 693.6 h3.4 M340.7 693.6 h-3.4" stroke="#fff" stroke-width="0.6" opacity="0.9"/><text x="343" y="698.0" font-size="12.6">2</text>
<path d="M322.9 718.6 h3.4 M340.7 718.6 h-3.4" stroke="#fff" stroke-width="0.6" opacity="0.9"/><text x="343" y="723.0" font-size="12.6">1</text>
<path d="M322.9 743 h3.4 M340.7 743 h-3.4" stroke="#fff" stroke-width="0.6" opacity="0.9"/><text x="343" y="747.4" font-size="12.6">0</text>
<text x="330.2" y="805.6" font-size="13" text-anchor="middle">Percent</text>
<text x="330.2" y="820.8" font-size="13" text-anchor="middle">Expressed</text>
<circle cx="330.1" cy="832.6" r="0.8" fill="#000"/><text x="345.6" y="837.1" font-size="13.1">0</text>
<circle cx="330.1" cy="853.6" r="3.4" fill="#000"/><text x="345.6" y="858.1" font-size="13.1">25</text>
<circle cx="330.1" cy="874.2" r="6" fill="#000"/><text x="345.6" y="878.7" font-size="13.1">50</text>
<circle cx="330.1" cy="894.6" r="8.3" fill="#000"/><text x="345.6" y="899.1" font-size="13.1">75</text>
<circle cx="330.1" cy="915.4" r="11" fill="#000"/><text x="345.6" y="919.9" font-size="13.1">100</text>
</g>
</svg>
</body></html>
